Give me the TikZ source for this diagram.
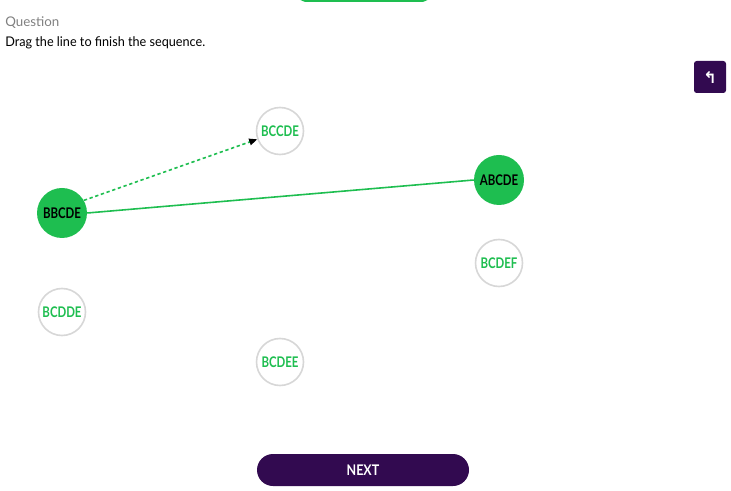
\documentclass[tikz,border=0pt]{standalone}
\usepackage{fontspec}
\setmainfont{Lato}
\newfontfamily\symf{DejaVu Sans}
\usetikzlibrary{arrows.meta}
\definecolor{gr}{RGB}{30,190,80}
\definecolor{pu}{RGB}{50,10,80}
\definecolor{ci}{RGB}{215,215,215}
\begin{document}
\begin{tikzpicture}[x=0.75pt,y=-0.75pt,
  open/.style={circle,draw=ci,line width=1.2pt,fill=white,minimum size=47*0.75pt,inner sep=0pt,text=gr,font=\bfseries\fontsize{11}{11}\selectfont},
  full/.style={circle,fill=gr,minimum size=50*0.75pt,inner sep=0pt,text=black,font=\bfseries\fontsize{11}{11}\selectfont}]
\useasboundingbox (0,0) rectangle (731,491);
\draw[gr,line width=1.5pt,rounded corners=4pt] (300,-10) rectangle (428,1);
\node[anchor=west,text=gray,font=\fontsize{10}{10}\selectfont,inner sep=0pt] (q) at (5,23) {Question};
\node[anchor=west,font=\fontsize{10}{10}\selectfont,inner sep=0pt] (d) at (5,43) {\scalebox{0.95}[1]{Drag the line to finish the sequence.}};
\node[fill=pu,rounded corners=2pt,minimum size=32*0.75pt,inner sep=0pt,text=white,font=\symf\bfseries\fontsize{12}{12}\selectfont] (undo) at (710,77) {↰};
\node[open] (c1) at (280,131) {\scalebox{0.78}[1]{BCCDE}};
\node[full] (c2) at (499,180) {\scalebox{0.78}[1]{ABCDE}};
\node[full] (c3) at (62,213) {\scalebox{0.78}[1]{BBCDE}};
\node[open] (c4) at (499,263) {\scalebox{0.78}[1]{BCDEF}};
\node[open] (c5) at (62,312) {\scalebox{0.78}[1]{BCDDE}};
\node[open] (c6) at (280,362) {\scalebox{0.78}[1]{BCDEE}};
\draw[gr,line width=1.2pt] (c3.east) -- (c2.west);
\draw[gr,line width=1.2pt,dashed,dash pattern=on 2.5pt off 2pt,-{Triangle[black,length=6pt,width=5pt]}] (c3.30) -- (c1.200);
\node[fill=pu,rounded corners=16*0.75pt,minimum width=212*0.75pt,minimum height=32*0.75pt,inner sep=0pt,text=white,font=\bfseries\fontsize{11}{11}\selectfont] (next) at (363,470) {\scalebox{0.85}[1]{NEXT}};
\end{tikzpicture}
\end{document}
